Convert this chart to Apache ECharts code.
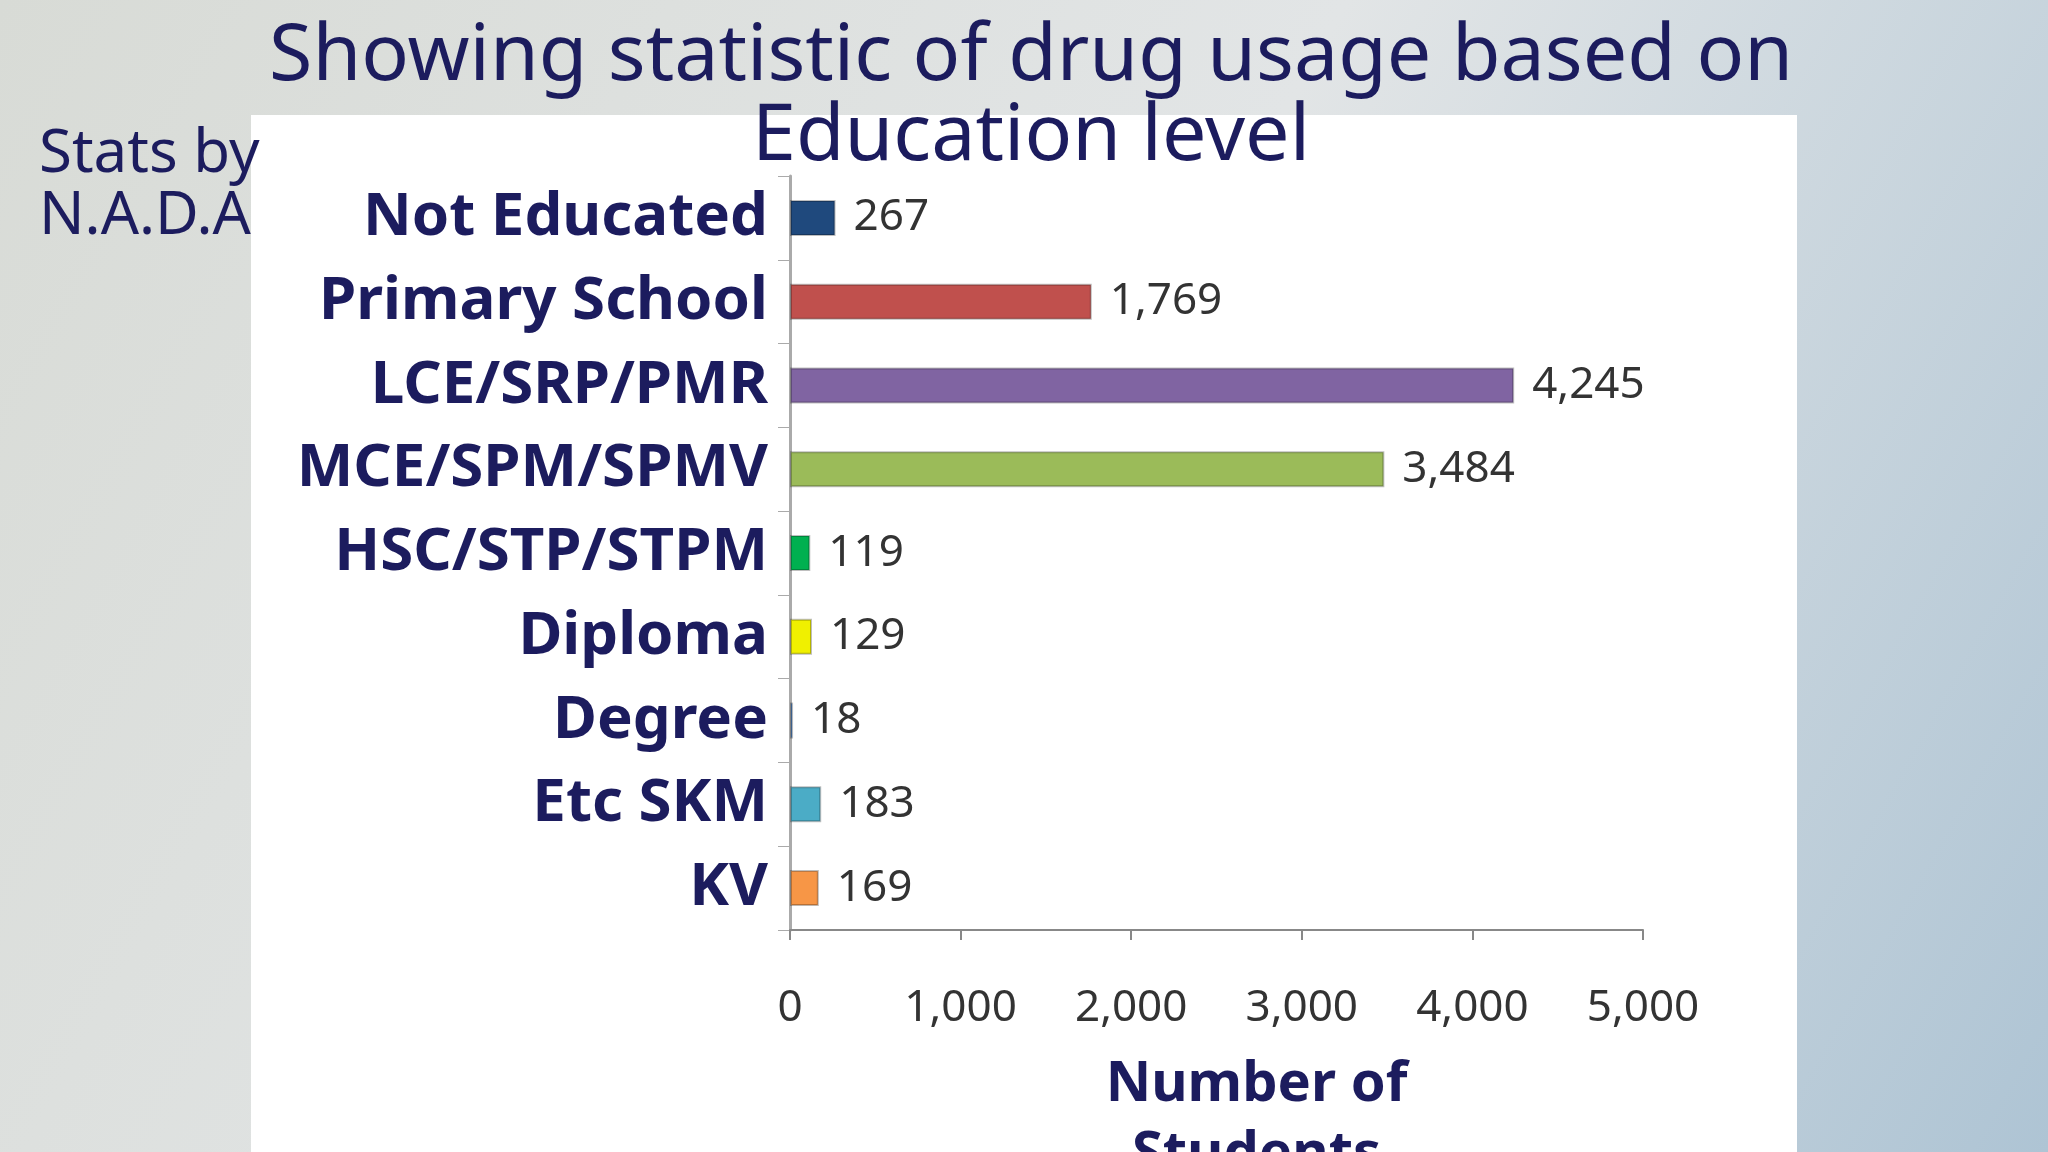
<!DOCTYPE html>
<html><head><meta charset="utf-8">
<script src="https://cdn.jsdelivr.net/npm/echarts@6/dist/echarts.min.js"></script>
<style>html,body{margin:0;padding:0}#c{width:2048px;height:1152px}</style>
</head><body><div id="c"></div>
<script>
const categories = ['Not Educated','Primary School','LCE/SRP/PMR','MCE/SPM/SPMV','HSC/STP/STPM','Diploma','Degree','Etc SKM','KV'];
const values = [267,1769,4245,3484,119,129,18,183,169];
const colors = ['#1f497d','#c0504d','#8064a2','#9bbb59','#00b050','#f0f000','#4f81bd','#4bacc6','#f79646'];
const ticks = [0,1000,2000,3000,4000,5000];
const chart = echarts.init(document.getElementById('c'));
chart.setOption({
  animation:false,
  backgroundColor:{type:'linear',x:0,y:0,x2:1,y2:1,colorStops:[{offset:0,color:'#d8dbd6'},{offset:0.5,color:'#e2e5e6'},{offset:1,color:'#aec4d4'}]},
  graphic:[
    {type:'rect',shape:{x:251,y:115,width:1546,height:1040},style:{fill:'#ffffff'},z:-10},
    {type:'text',left:39,top:124,style:{text:'Stats by\nN.A.D.A',font:'60px "Noto Sans"',fill:'#1c1c5e',lineHeight:62}}
  ],
  title:{text:'Showing statistic of drug usage based on\nEducation level',left:1026,top:12,textAlign:'center',
    textStyle:{fontFamily:'Noto Sans',fontSize:79,fontWeight:'normal',color:'#1c1c5e',lineHeight:80}},
  grid:{left:790,right:405,top:176,bottom:222,outerBoundsMode:'none',containLabel:false},
  xAxis:{type:'value',min:0,max:5000,interval:1000,
    axisLine:{show:true,lineStyle:{color:'#888',width:2}},axisTick:{show:true,length:10,lineStyle:{color:'#888',width:2}},
    splitLine:{show:false},
    axisLabel:{formatter:v=>v.toLocaleString('en-US'),fontFamily:'Noto Sans',fontSize:44,color:'#333',margin:56},
    name:'Number of\nStudents',nameLocation:'middle',nameGap:120,
    nameTextStyle:{fontFamily:'Noto Sans',fontSize:56,fontWeight:'bold',color:'#1c1c5e',padding:[0,0,0,80],lineHeight:70,verticalAlign:'top'}},
  yAxis:{type:'category',data:categories,inverse:true,
    axisLine:{show:true,lineStyle:{color:'#aaa',width:3}},axisTick:{show:true,length:12,lineStyle:{color:'#aaa'}},
    axisLabel:{interval:0,fontFamily:'Noto Sans',fontSize:60,fontWeight:'bold',color:'#1c1c5e',margin:22}},
  series:[{type:'bar',barWidth:36,
    data:values.map((v,i)=>({value:v,itemStyle:{color:colors[i],borderColor:'rgba(0,0,0,0.25)',borderWidth:2}})),
    label:{show:true,position:'right',distance:18,formatter:p=>p.value.toLocaleString('en-US'),
      fontFamily:'Noto Sans',fontSize:44,color:'#333'}}]
});
</script></body></html>
